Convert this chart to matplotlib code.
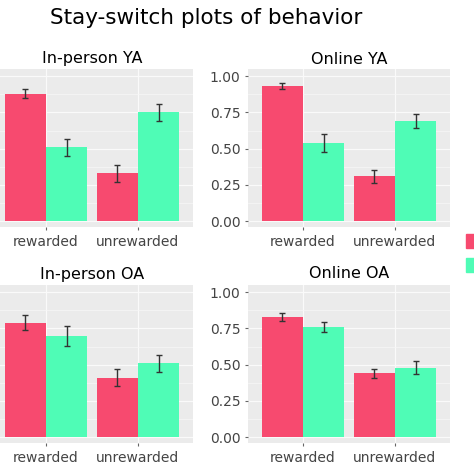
import matplotlib
matplotlib.use("Agg")
import matplotlib.pyplot as plt
import numpy as np

categories = ["rewarded", "unrewarded"]
titles = ["In-person YA", "Online YA", "In-person OA", "Online OA"]
pink_vals = [[0.88, 0.33], [0.93, 0.31], [0.79, 0.41], [0.83, 0.44]]
teal_vals = [[0.51, 0.75], [0.54, 0.69], [0.70, 0.51], [0.76, 0.48]]
pink_err = [[0.03, 0.06], [0.02, 0.045], [0.05, 0.06], [0.025, 0.03]]
teal_err = [[0.06, 0.06], [0.065, 0.05], [0.07, 0.06], [0.035, 0.045]]
yticks = [0.0, 0.25, 0.5, 0.75, 1.0]
ytick_labels = ["0.00", "0.25", "0.50", "0.75", "1.00"]

PINK = "#F74A6F"
TEAL = "#4FFCB6"
W, H = 474, 474
fig = plt.figure(figsize=(W/100, H/100), dpi=100)

def rect(l, t, r, b):
    return [l/W, 1-b/H, (r-l)/W, (b-t)/H]

boxes = [rect(-9, 69, 193, 227), rect(248, 69, 450, 227),
         rect(-9, 285, 193, 443), rect(248, 285, 450, 443)]
title_y = [58, 60, 274, 274]
x = np.arange(len(categories))
bw = 0.45
for i, box in enumerate(boxes):
    ax = fig.add_axes(box)
    ax.set_facecolor("#EBEBEB")
    ax.bar(x - bw/2, pink_vals[i], bw, color=PINK, zorder=3)
    ax.bar(x + bw/2, teal_vals[i], bw, color=TEAL, zorder=3)
    ax.errorbar(x - bw/2, pink_vals[i], yerr=pink_err[i], fmt="none", ecolor="#333333", elinewidth=1, capsize=2, zorder=4)
    ax.errorbar(x + bw/2, teal_vals[i], yerr=teal_err[i], fmt="none", ecolor="#333333", elinewidth=1, capsize=2, zorder=4)
    ax.set_xlim(-0.6, 1.6)
    ax.set_ylim(-0.04, 1.05)
    ax.set_xticks(x)
    ax.set_xticklabels(categories, fontsize=10, color="#444444")
    ax.set_yticks(yticks)
    ax.set_yticks([0.125, 0.375, 0.625, 0.875], minor=True)
    if i % 2 == 0:
        ax.set_yticklabels([])
    else:
        ax.set_yticklabels(ytick_labels, fontsize=10, color="#444444")
    ax.grid(True, which="minor", color="#F7F7F7", lw=0.5, zorder=0)
    ax.grid(True, which="major", color="#FAFAFA", lw=0.9, zorder=0)
    for s in ax.spines.values():
        s.set_visible(False)
    ax.tick_params(which="both", length=2, color="#666666")
    ax.tick_params(which="minor", length=0)
    cx = (box[0] + box[2]/2)
    fig.text(cx, 1 - title_y[i]/H, titles[i], ha="center", va="center", fontsize=11.5)

fig.text(206/W, 1-18/H, "Stay-switch plots of behavior", ha="center", va="center", fontsize=15.5)
fig.patches.append(plt.Rectangle((466/W, 1-248/H), 10/W, 14/H, transform=fig.transFigure, color=PINK))
fig.patches.append(plt.Rectangle((466/W, 1-272/H), 10/W, 14/H, transform=fig.transFigure, color=TEAL))
fig.savefig("out.png", dpi=100)
